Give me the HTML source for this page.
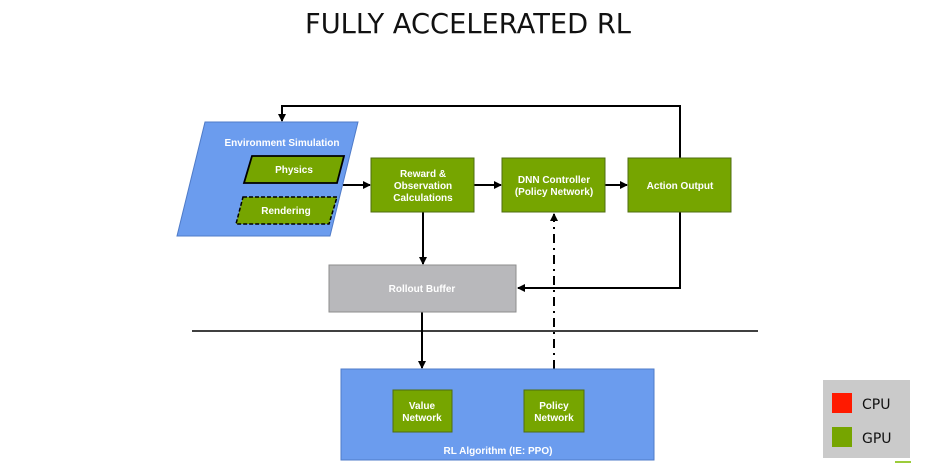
<!DOCTYPE html>
<html><head><meta charset="utf-8"><style>
html,body{margin:0;padding:0;background:#fff;width:936px;height:463px;overflow:hidden}
svg{display:block}
.w{font-family:"Liberation Sans",Arial,sans-serif;font-weight:bold;font-size:10px;fill:#fff;text-anchor:middle}
</style></head><body>
<svg width="936" height="463" viewBox="0 0 936 463" xmlns="http://www.w3.org/2000/svg">
<defs>
<marker id="a" markerWidth="8" markerHeight="8" refX="7" refY="4" orient="auto" markerUnits="userSpaceOnUse">
<path d="M0,0 L8,4 L0,8 z" fill="#000"/></marker>
</defs>
<text x="468" y="33" font-family="DejaVu Sans, sans-serif" font-size="28" fill="#111" text-anchor="middle" textLength="326" lengthAdjust="spacingAndGlyphs">FULLY ACCELERATED RL</text>

<!-- connectors -->
<polyline points="680,158 680,106 282,106 282,121" fill="none" stroke="#000" stroke-width="2" marker-end="url(#a)"/>
<polyline points="680,212 680,288 518,288" fill="none" stroke="#000" stroke-width="2" marker-end="url(#a)"/>
<line x1="343" y1="185" x2="370" y2="185" stroke="#000" stroke-width="2" marker-end="url(#a)"/>
<line x1="474" y1="185" x2="501" y2="185" stroke="#000" stroke-width="2" marker-end="url(#a)"/>
<line x1="605" y1="185" x2="627" y2="185" stroke="#000" stroke-width="2" marker-end="url(#a)"/>
<line x1="423" y1="212" x2="423" y2="264" stroke="#000" stroke-width="2" marker-end="url(#a)"/>
<line x1="422" y1="312" x2="422" y2="368" stroke="#000" stroke-width="2" marker-end="url(#a)"/>
<line x1="192" y1="331" x2="758" y2="331" stroke="#000" stroke-width="1.5"/>
<line x1="554" y1="390" x2="554" y2="214" stroke="#000" stroke-width="2" stroke-dasharray="9,5,2,5" marker-end="url(#a)"/>

<!-- env -->
<polygon points="205,122 358,122 330,236 177,236" fill="#6b9cee" stroke="#4f7bc8" stroke-width="1"/>
<text class="w" x="282" y="146">Environment Simulation</text>
<polygon points="252,156 344,156 337,183 244,183" fill="#76a500" stroke="#000" stroke-width="1.8"/>
<text class="w" x="294" y="173">Physics</text>
<polygon points="243,197 337,197 329,224 236,224" fill="#76a500" stroke="#000" stroke-width="1.5" stroke-dasharray="4,2"/>
<text class="w" x="286" y="214">Rendering</text>

<rect x="371" y="158" width="103" height="54" fill="#76a500" stroke="#4f6d10"/>
<text class="w" x="423" y="177">Reward &amp;</text>
<text class="w" x="423" y="189">Observation</text>
<text class="w" x="423" y="201">Calculations</text>
<rect x="502" y="158" width="103" height="54" fill="#76a500" stroke="#4f6d10"/>
<text class="w" x="554" y="183">DNN Controller</text>
<text class="w" x="554" y="195">(Policy Network)</text>
<rect x="628" y="158" width="103" height="54" fill="#76a500" stroke="#4f6d10"/>
<text class="w" x="680" y="189">Action Output</text>

<rect x="329" y="265" width="187" height="47" fill="#b8b8bb" stroke="#8e8e8e"/>
<text class="w" x="422" y="292">Rollout Buffer</text>

<rect x="341" y="369" width="313" height="91" fill="#6b9cee" stroke="#4f7bc8"/>
<rect x="393" y="390" width="59" height="42" fill="#76a500" stroke="#4f6d10"/>
<text class="w" x="422" y="409">Value</text>
<text class="w" x="422" y="421">Network</text>
<rect x="524" y="390" width="60" height="42" fill="#76a500" stroke="#4f6d10"/>
<text class="w" x="554" y="409">Policy</text>
<text class="w" x="554" y="421">Network</text>
<text class="w" x="498" y="454">RL Algorithm (IE: PPO)</text>

<rect x="823" y="380" width="87" height="78" fill="#cacaca"/>
<rect x="832" y="393" width="20" height="20" fill="#ff1a00"/>
<rect x="832" y="427" width="20" height="20" fill="#76a500"/>
<text x="862" y="409" font-family="DejaVu Sans, sans-serif" font-size="14" fill="#111">CPU</text>
<text x="862" y="443" font-family="DejaVu Sans, sans-serif" font-size="14" fill="#111">GPU</text>
<rect x="895" y="461" width="16" height="2" fill="#9ccc3a"/>
</svg>
</body></html>
